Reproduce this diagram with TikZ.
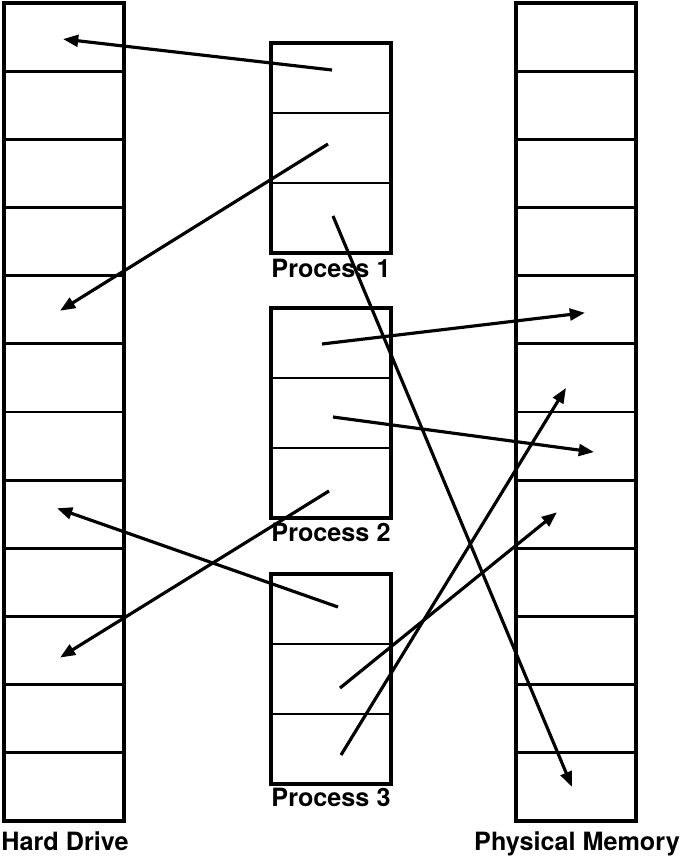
\documentclass[tikz,border=0pt]{standalone}
\usepackage{fontspec}
\setmainfont{TeX Gyre Heros}
\usetikzlibrary{arrows.meta,calc}

\begin{document}
\begin{tikzpicture}[x = 0.03cm, y = -0.03cm,
		column/.style = {draw, line width = 3.6pt, outer sep = 0pt, inner sep = 0pt, minimum width = 3.6cm},
		divider/.style = {line width = 2.3pt},
		link/.style = {line width = 2.7pt, -{Triangle[length = 13pt, width = 10pt]}},
		lbl/.style = {inner sep = 0pt, anchor = base, font = \fontsize{21.5}{25}\selectfont\bfseries}]
				\useasboundingbox (0, 0) rectangle (685, 856);
				
				% columns and their cells
				\foreach \name/\cx/\cy/\h/\n in {hd/64/412/818/12, pm/576/412/818/12, p1/331/148/210/3, p2/331/413/210/3, p3/331/679/210/3} {
					\node[column, minimum height = \h*0.03cm] (\name) at (\cx, \cy) {};
					\foreach \i in {1,...,\n} {
						\coordinate (\name-\i) at ($(\name.north)!{(\i-0.5)/\n}!(\name.south)$);
					}
					\foreach \i in {2,...,\n} {
						\draw[divider] ($(\name.north west)!{(\i-1)/\n}!(\name.south west)$) -- ($(\name.north east)!{(\i-1)/\n}!(\name.south east)$);
					}
				}
				
				% labels
				\node[lbl] (p1-name) at (331, 277) {Process 1};
				\node[lbl] (p2-name) at (331, 541) {Process 2};
				\node[lbl] (p3-name) at (331, 806) {Process 3};
				\node[lbl] (hd-name) at (65, 850) {Hard Drive};
				\node[lbl] (pm-name) at (577, 850) {Physical Memory};
				
				% process 1
				\draw[link] ([shift = {(1, -8)}]p1-1) -- ([shift = {(-1, 2)}]hd-1);
				\draw[link] ([shift = {(-3, -4)}]p1-2) -- ([shift = {(-4, 1)}]hd-5);
				\draw[link] ([shift = {(2, -2)}]p1-3) -- ([shift = {(-4, 0)}]pm-12);
				
				% process 2
				\draw[link] ([shift = {(-9, 1)}]p2-1) -- ([shift = {(9, 3)}]pm-5);
				\draw[link] ([shift = {(2, 4)}]p2-2) -- ([shift = {(18, 6)}]pm-7);
				\draw[link] ([shift = {(-2, 8)}]p2-3) -- ([shift = {(-4, 7)}]hd-10);
				
				% process 3
				\draw[link] ([shift = {(7, -2)}]p3-1) -- ([shift = {(-7, -6)}]hd-8);
				\draw[link] ([shift = {(9, 9)}]p3-2) -- ([shift = {(-19, -2)}]pm-8);
				\draw[link] ([shift = {(10, 6)}]p3-3) -- ([shift = {(-10, 10)}]pm-6);
				
			\end{tikzpicture}
\end{document}
